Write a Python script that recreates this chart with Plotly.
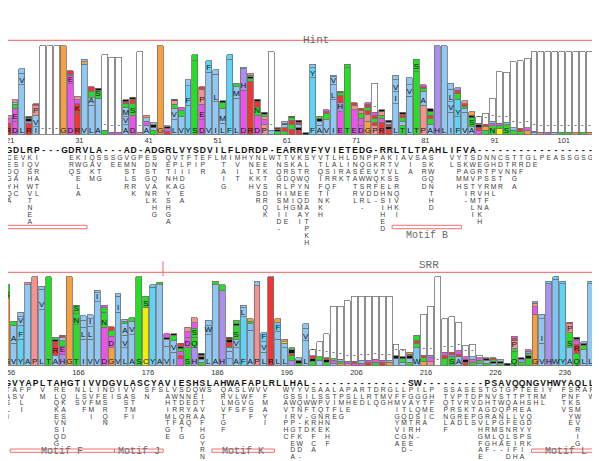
import plotly.graph_objects as go

W, H = 600, 461
UNIT = 89.0  # pixels per unit of bar height

# ---------------- data: top panel (Hint) ----------------
top_first = 21
top_consensus = ("GDLRP---GDRVLA---AD-ADGRLVYSDVILFLDRDP-EARRVFYVIETEDG-RRLTLTPAHLIFVA"
                 + "-" * 19)
top_bars = [
    "R13 E5 P4", "D15 E15 S4 A2 P3", "L56 V13 A5", "R13 H2 x3 z3", "I9 V13 P11 R2",
    "-100", "-100", "-100", "G100", "D57 E9 S2 R4",
    "R24 K11 E4 P4", "V79 G3 A3", "L33 A9 Q7 R5", "A41 S9 x2", "S5 -85",
    "E3 -84", "E3 -84", "A11 V9 M11 S4 R2 x2", "D22 S13 R5 x2", "P3 -90",
    "A10 E5 V4 G3", "S5 A3 x3 V3", "G100", "R4 E3 x2 H1", "L17 V13 S4 P4 x2",
    "V20 S7 E4", "Y33 F22 A7", "S83 T7", "D17 E17 P17 R3", "V70 F13",
    "I37 L31 A5", "L13 M17 S6 x2", "F85 Y5", "L41 M13 S4", "D50 H24 A2",
    "R60 S3 x2 A2 P2", "D22 N9 R6 x3", "P11 E6 P3 S3 x2", "A5 -88", "S4 x2 b2",
    "S4 R4 A3 x2 A2", "R6 S6 R4 S3 x2", "R5 x3 A3 R3 x2", "x2", "F64 Y11 A4",
    "A10 A5 x3 S3", "V17 S7 R2 E2", "I39 L17 V9 A2", "E26 H10 R8 S3 R2", "T75 S4",
    "E28 P5 R3", "D10 E8 S6 G3 R3", "G15 P8 R4 S4 R3 E2", "P10 R4 S4 R4 E3 -33", "R14 E4 S4 P4 x2",
    "R6 x3 R3 A2 x2", "L35 I13 V14 A5", "T10 A5 S4 R4 x2", "L43 V13 A8", "T71 S14",
    "P33 A16 S3 R2 E2", "A12 S6 R4 S4 x3", "H100", "L100", "I25 V12 L14 A7",
    "F20 Y20 S6 R4 H3", "V25 A4 S3 R3 P3", "A9 S10 x3 G4", "E5 R3 x3 P2 -7", "S5 G4 R3 -12",
    "N10 E3 A2 -26", "C7 S3 E3 -58", "S12 A2 -56", "S5 A3 -74", "S4 R3 -76",
    "G5 E3 -78", "A2 H2 -89", "P3 -90", "E3 -90", "A3 -90",
    "S3 -90", "S3 -90", "G3 -90", "S3 -90", "G3 -90",
    "P3 -90", "P3 -90",
]
top_alts = [
    "CEDGYQA", "ESQAHC", "VI", "KQSHWVTNEA", "IVRATL", "", "", "", "", "ERQ",
    "KWSELA", "IG", "QAKM", "SVTG", "S", "SE", "GE", "VMSLR", "GNTSRK", "P",
    "EDSGVNL", "SNTQARKHG", "", "QETNKYSHGA", "VPIHA", "TLIDGEA", "FPI", "TI", "EPR", "F",
    "L", "MTAIG", "I", "MVIT", "H", "YNLKH", "NETKVSR", "LEKTSDRQK", "W", "TNQGRHSLID-",
    "TSRDLIMHIE", "VKSQPMIG", "KATWYEQMAI", "SLRQNEDAYTPKH", "Y", "VTQIFTNKH", "TLSRQIK", "LAIRF", "HLRK", "LIAT",
    "DNSATRL", "NQEWSVR-", "PGEWRDL", "PKVQFD-", "ARTKEHSIHED", "KTVSLNIH", "IVLSRQVKI", "A", "VIA", "S",
    "ASRGD", "SKWQNTHD", "", "", "VL", "YSPMH", "TKAMSI-", "SWGVTRMLI", "DERPYVTNKH", "NGTSRHFA",
    "NHPSML", "CDVTR", "STN", "TRNGA", "TRF", "GD", "LE", "P", "E", "A",
    "S", "S", "G", "S", "G", "P", "P",
]
top_ticks = [21, 31, 41, 51, 61, 71, 81, 91, 101]
top_motifs = [("", 15.0, 32.4), ("Motif B", 76.5, 86.5)]
top_title = "Hint"

# ---------------- data: bottom panel (SRR) ----------------
bot_first = 156
bot_consensus = ("GVYAPLTAHGTIVVDGVLASCYAVIESHSLAHWAFAPLRLLHAL"
                 + "-" * 14 + "SW" + "-" * 9 + "PSAVQQNGVHWYAQLLYR")
bot_bars = [
    "G75 S16", "V25 A20 S5", "Y30 F15 V10 A5", "A91 P3", "P100",
    "L63 V23 A3", "T100", "A12 R12 R3 x2 S3", "H13 E9 S6 A4 R2", "G100",
    "T46 N13 S9", "I30 L13 V8 A5", "V30 L14 I9 A4", "V72 I10 A3", "D43 N17 S5 E3",
    "G20 D13 S6 R5", "V60 I18 A3", "L20 V14 A13 S3 A2", "A35 V15 S4", "S100",
    "C65 S13", "Y88 F3", "A91 S3", "V22 A8 x2 E4", "I15 V13 S6 x2",
    "E8 R3 E5 S3 x3 R3", "S20 D12 E6 P5", "H20 Q12 S10 E6 P6", "S4 A3 x3 A2 x2", "L35 W10 A6",
    "A91 S4", "H84 S7", "W8 A8 A5 R5 x3 b3", "A20 V10 S15 x2 S4", "F55 L10 A3",
    "A40 W7 S3 G3", "P90 A5", "L15 V12 F10", "R100", "L30 A8 F10 G5",
    "L20 A5 C2 G3", "H6 S5 R3 x4 S2", "S3 x3 A3", "L28 V14 A5", "S5 x3 R3 -7",
    "A6 S4 -17", "S4 x3 R2 -27", "A3 E3 S2 -59", "G3 S2 A2 -60", "P3 E2 -68",
    "E3 R2 -73", "E3 A3 -72", "R4 E2 -72", "S4 E3 -71", "R4 E2 -72",
    "G4 A2 -72", "A8 x3 -13", "A4 S4 x2 -8", "S4 A4 x3 R2 G2", "W20 S5 R3 S6",
    "G5 S4 R3 -46", "P5 E4 H3 -55", "-100", "S8 R4 E3 -38", "S10 E3 R2 -40",
    "A10 R3 E4 -32", "R4 x3 E3 -13", "S4 E3 A3 -14", "A3 S3 E3 -3", "S3 A3 x2 R1",
    "A3 x2 S2 R2", "S3 x2 A2", "x3", "Q16 S3 P9 R3 E2", "S4 H3 x2",
    "N8 x3 S3 H2 E2", "G58 E8 P4 H2", "V25 I28 A5", "H92 Y3", "W97 F3",
    "Y92 F3", "A20 S17 P10 R2", "Q14 R10 E4 H2 x2", "L18 S5 x2 A2", "L92 F3",
    "Y35 F10 H5", "R12 x3 A5",
]
bot_alts = [
    "TASLI", "AS", "FVLI", "P", "", "VM", "", "RLQKEVSQG", "EQKASNID", "",
    "NLS", "LSVF", "LVFMI", "IFM", "NESRQN", "DI", "IS", "VASTF", "VSTMI", "",
    "SN", "F", "S", "LAHIMTGE", "VWTRLF", "SNDRQATG", "DNEYRQ", "QEDAA", "WITVAFHGYRNK", "S",
    "", "QRLVTGF", "AVMF", "SLGS", "LWVF", "WFGSF", "V", "VFMAYI", "", "",
    "WGAVIPHC", "YSWTRPGFEDA", "YSQNV-TKWD-", "VIWF-KD", "SLWTGRKFCA", "ASPQNHE", "ASVTRNKHF", "LTIFE", "APMLG", "PSHE",
    "ALE", "RLD", "TRL", "DTQ", "RMG", "GVH", "LFMIGYVCA", "LFVTQMIGED", "PGALDTRNE-", "IGYQSRH-",
    "LGTMIA", "PHFEC", "", "STQPNLF", "SVTRGA", "APVSRD", "STRKEL", "EDVTPS", "SPDAGVHGFAE-", "TNHGRLRMGF",
    "GVTDAPMLH-", "TSWQNGSQA-", "GTQPLFNLEID", "PTARLERSIFHE", "TPHEVGYPRIA", "ETSAQDYSK", "ERH", "IML", "Y", "",
    "FPTV", "SNKSYE", "RFSMWVRIG", "A", "FW", "IHSMLF", "KTSQHWNGD",
]
bot_ticks = [156, 166, 176, 186, 196, 206, 216, 226, 236]
bot_motifs = [("Motif F", 156.5, 171.5), ("Motif J", 171.5, 178.5),
              ("Motif K", 185.5, 194.5), ("Motif L", 231.5, 241.5)]
bot_title = "SRR"

COLORS = {
    'A': '#8ec8f4', 'I': '#8ec8f4', 'L': '#8ec8f4', 'M': '#8ec8f4', 'V': '#8ec8f4',
    'W': '#7cc6f6', 'F': '#5cd4f8', 'Y': '#5cd4f8',
    'H': '#ab8ff0',
    'D': '#f050f0', 'E': '#f050f0',
    'K': '#f03535', 'R': '#f03535',
    'G': '#f8a040', 'P': '#f89090',
    'S': '#22e022', 'T': '#22e022', 'N': '#22e022', 'Q': '#22e022',
    'C': '#f0f000',
    'x': '#111111', 'z': '#505050', 'b': '#7a3a10',
    '-': '#ffffff',
}

# ---------------- layout geometry ----------------
PANELS = [
    dict(name="top", first=top_first, cons=top_consensus, bars=top_bars, alts=top_alts,
         ticks=top_ticks, motifs=top_motifs, title=top_title,
         ref_p=22, ref_px=7.0, step=6.92, base_px=126.7, px_top=0, px_bot=240,
         tick_px=133.5, cons_px=143.3, alt0_px=150.5, alt_step=7.1,
         box_px=(217.3, 220.7), mlabel_px=227.5,
         title_px=(307.5, 24.5), line_px=32.3, xa="x", ya="y"),
    dict(name="bot", first=bot_first, cons=bot_consensus, bars=bot_bars, alts=bot_alts,
         ticks=bot_ticks, motifs=bot_motifs, title=bot_title,
         ref_p=166, ref_px=68.3, step=6.95, base_px=357.7, px_top=240, px_bot=461,
         tick_px=365.5, cons_px=375.7, alt0_px=382.3, alt_step=6.7,
         box_px=(441.0, 444.3), mlabel_px=451.0,
         title_px=(433, 257.3), line_px=264.3, xa="x2", ya="y2"),
]


def parse(spec):
    out = []
    for tok in spec.split():
        out.append((tok[0], int(tok[1:]) / 100.0))
    return out


fig = go.Figure()
shapes = []
annotations = []
TEXT_FONT = "Liberation Sans, Arial, sans-serif"
MONO = "Liberation Mono, DejaVu Sans Mono, monospace"

for P in PANELS:
    n = len(P["bars"])
    pos = [P["first"] + i for i in range(n)]
    stacks = [parse(s) for s in P["bars"]]
    depth = max(len(s) for s in stacks)

    def ypx(px, P=P):
        return (P["base_px"] - px) / UNIT

    # stacked bar layers
    for k in range(depth):
        ys, cols = [], []
        for s in stacks:
            if k < len(s):
                ys.append(s[k][1])
                cols.append(COLORS[s[k][0]])
            else:
                ys.append(None)
                cols.append('#ffffff')
        fig.add_trace(go.Bar(x=pos, y=ys, width=0.86,
                             marker=dict(color=cols, line=dict(color='#707070', width=0.8)),
                             xaxis=P["xa"], yaxis=P["ya"], hoverinfo='skip', showlegend=False))

    # letters inside bars
    lx, ly, lt = [], [], []
    for p, s in zip(pos, stacks):
        base = 0.0
        for res, h in s:
            if res == '-' and h >= 0.05:
                lx.append(p); ly.append(base + 0.075); lt.append('-')
            elif res.isupper() and h >= 0.085:
                lx.append(p); ly.append(base + 0.047); lt.append(res)
            base += h
    fig.add_trace(go.Scatter(x=lx, y=ly, text=lt, mode='text',
                             textfont=dict(family=TEXT_FONT, size=8, color='#111111'),
                             xaxis=P["xa"], yaxis=P["ya"], hoverinfo='skip', showlegend=False))

    # position labels
    fig.add_trace(go.Scatter(x=[t + 0.3 for t in P["ticks"]], y=[ypx(P["tick_px"])] * len(P["ticks"]),
                             text=[str(t) for t in P["ticks"]], mode='text',
                             textfont=dict(family=TEXT_FONT, size=7.5, color='#333333'),
                             xaxis=P["xa"], yaxis=P["ya"], hoverinfo='skip', showlegend=False))

    # consensus row
    fig.add_trace(go.Scatter(x=[p + 0.15 for p in pos], y=[ypx(P["cons_px"])] * n,
                             text=list(P["cons"]), mode='text',
                             textfont=dict(family=TEXT_FONT, size=8.5, color='#111111', weight='bold'),
                             xaxis=P["xa"], yaxis=P["ya"], hoverinfo='skip', showlegend=False))

    # alternative residue rows
    ax_, ay_, at_ = [], [], []
    for p, col in zip(pos, P["alts"]):
        for r, ch in enumerate(col):
            ax_.append(p + 0.15)
            ay_.append(ypx(P["alt0_px"] + r * P["alt_step"]))
            at_.append(ch)
    fig.add_trace(go.Scatter(x=ax_, y=ay_, text=at_, mode='text',
                             textfont=dict(family=TEXT_FONT, size=6.8, color='#3a3a3a'),
                             xaxis=P["xa"], yaxis=P["ya"], hoverinfo='skip', showlegend=False))

    # motif boxes and labels
    xref = P["xa"]
    for label, x0, x1 in P["motifs"]:
        shapes.append(dict(type='rect', xref=xref, yref='paper', x0=x0, x1=x1,
                           y0=1 - P["box_px"][1] / H, y1=1 - P["box_px"][0] / H,
                           line=dict(color='#f07070', width=1), fillcolor='rgba(0,0,0,0)'))
        if label:
            annotations.append(dict(x=(x0 + x1) / 2, y=1 - P["mlabel_px"] / H, xref=xref, yref='paper',
                                    text=label, showarrow=False,
                                    font=dict(family=MONO, size=10, color='#6a6a6a')))

    # domain title and red line
    annotations.append(dict(x=P["title_px"][0] / W, y=1 - P["title_px"][1] / H, xref='paper', yref='paper',
                            text=P["title"], showarrow=False,
                            font=dict(family=MONO, size=11, color='#6a6a6a')))
    shapes.append(dict(type='line', xref='paper', yref='paper', x0=0, x1=1,
                       y0=1 - P["line_px"] / H, y1=1 - P["line_px"] / H,
                       line=dict(color='#f08080', width=1.2)))

# small vertical domain-boundary tick in the SRR line
shapes.append(dict(type='line', xref='paper', yref='paper', x0=155 / W, x1=155 / W,
                   y0=1 - 268.3 / H, y1=1 - 253.3 / H, line=dict(color='#f08080', width=1.2)))

# axes
layout_axes = {}
for P, key in zip(PANELS, ["", "2"]):
    x_lo = P["ref_p"] - P["ref_px"] / P["step"]
    x_hi = P["ref_p"] + (W - P["ref_px"]) / P["step"]
    y_hi = (P["base_px"] - P["px_top"]) / UNIT
    y_lo = (P["base_px"] - P["px_bot"]) / UNIT
    layout_axes["xaxis" + key] = dict(range=[x_lo, x_hi], visible=False, fixedrange=True,
                                      domain=[0, 1], anchor="y" + key)
    layout_axes["yaxis" + key] = dict(range=[y_lo, y_hi], visible=False, fixedrange=True,
                                      domain=[1 - P["px_bot"] / H, 1 - P["px_top"] / H],
                                      anchor="x" + key)

fig.update_layout(width=W, height=H, margin=dict(l=0, r=0, t=0, b=0),
                  paper_bgcolor='white', plot_bgcolor='white', barmode='stack',
                  shapes=shapes, annotations=annotations, showlegend=False, **layout_axes)

fig.write_html("out.html")
